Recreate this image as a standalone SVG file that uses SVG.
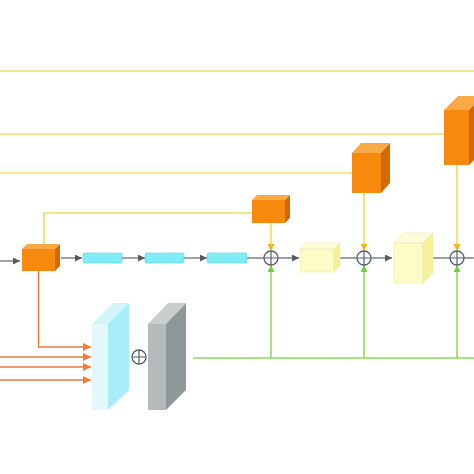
<svg xmlns="http://www.w3.org/2000/svg" width="474" height="474" viewBox="0 0 474 474">
<defs>
<style>
.yl{stroke:#F2DD64;stroke-width:1.7;fill:none}
.gr{stroke:#8EDB5A;stroke-width:1.6;fill:none}
.gy{stroke:#6b6f73;stroke-width:1.3;fill:none}
.or{stroke:#F07A3C;stroke-width:1.5;fill:none}
.of{fill:#F7890C}.ot{fill:#F9A945}.os{fill:#CF6A05}
.pf{fill:#FDFBC6;stroke:#EDEBA6;stroke-width:0.6}.pt{fill:#FCFBDA;stroke:#EDEBA6;stroke-width:0.6}.ps{fill:#F6F29C;stroke:#EDEBA6;stroke-width:0.6}
.bar{fill:#7FEDF5;stroke:#5FCFDA;stroke-width:0.6}
.sum circle{fill:#fff;stroke:#55606b;stroke-width:1.3}
.sum path{stroke:#55606b;stroke-width:1.2}
</style>
<marker id="ag" viewBox="0 0 10 10" refX="10" refY="5" markerWidth="7" markerHeight="7" markerUnits="userSpaceOnUse" orient="auto"><path d="M0,0L10,5L0,10z" fill="#55595d"/></marker>
<marker id="ay" viewBox="0 0 10 10" refX="10" refY="5" markerWidth="7" markerHeight="7" markerUnits="userSpaceOnUse" orient="auto"><path d="M0,0L10,5L0,10z" fill="#F5B415"/></marker>
<marker id="agr" viewBox="0 0 10 10" refX="10" refY="5" markerWidth="7" markerHeight="7" markerUnits="userSpaceOnUse" orient="auto"><path d="M0,0L10,5L0,10z" fill="#6FD13A"/></marker>
<marker id="ao" viewBox="0 0 10 10" refX="10" refY="5" markerWidth="8" markerHeight="8" markerUnits="userSpaceOnUse" orient="auto"><path d="M0,0L10,5L0,10z" fill="#F07A3C"/></marker>
</defs>
<rect width="474" height="474" fill="#fff"/>
<g id="connectors">
<line class="yl" x1="0" y1="71" x2="474" y2="71"/>
<line class="yl" x1="0" y1="134" x2="444" y2="134"/>
<line class="yl" x1="0" y1="173" x2="352" y2="173"/>
<polyline class="yl" points="44,244 44,213 252,213"/>
<line class="yl" x1="271" y1="223" x2="271" y2="251" marker-end="url(#ay)"/>
<line class="yl" x1="364" y1="193" x2="364" y2="251" marker-end="url(#ay)"/>
<line class="yl" x1="457" y1="165" x2="457" y2="251" marker-end="url(#ay)"/>
<line class="gy" x1="0" y1="261" x2="20" y2="261" marker-end="url(#ag)"/>
<line class="gy" x1="61" y1="258" x2="82" y2="258" marker-end="url(#ag)"/>
<line class="gy" x1="122" y1="258" x2="145" y2="258" marker-end="url(#ag)"/>
<line class="gy" x1="184" y1="258" x2="207" y2="258" marker-end="url(#ag)"/>
<line class="gy" x1="247" y1="258" x2="264" y2="258"/>
<line class="gy" x1="278" y1="258" x2="299" y2="258" marker-end="url(#ag)"/>
<line class="gy" x1="340" y1="258" x2="357" y2="258"/>
<line class="gy" x1="371" y1="258" x2="392" y2="258" marker-end="url(#ag)"/>
<line class="gy" x1="433" y1="258" x2="450" y2="258"/>
<line class="gy" x1="464" y1="258" x2="474" y2="258"/>
<polyline class="or" points="38.5,271 38.5,347 91,347" marker-end="url(#ao)"/>
<line class="or" x1="0" y1="357" x2="91" y2="357" marker-end="url(#ao)"/>
<line class="or" x1="0" y1="367" x2="91" y2="367" marker-end="url(#ao)"/>
<line class="or" x1="0" y1="380" x2="91" y2="380" marker-end="url(#ao)"/>
<line class="gr" x1="193" y1="358" x2="474" y2="358"/>
<line class="gr" x1="271" y1="358" x2="271" y2="265" marker-end="url(#agr)"/>
<line class="gr" x1="364" y1="358" x2="364" y2="265" marker-end="url(#agr)"/>
<line class="gr" x1="457" y1="358" x2="457" y2="265" marker-end="url(#agr)"/>
</g>
<g id="box-in">
<rect class="of" x="22" y="249" width="33" height="22"/>
<polygon class="ot" points="22,249 27,244 60,244 55,249"/>
<polygon class="os" points="55,249 60,244 60,266 55,271"/>
</g>
<g id="box-small">
<rect class="of" x="252" y="200" width="33" height="23"/>
<polygon class="ot" points="252,200 257,195 290,195 285,200"/>
<polygon class="os" points="285,200 290,195 290,218 285,223"/>
</g>
<g id="box-mid">
<rect class="of" x="352" y="153" width="29" height="40"/>
<polygon class="ot" points="352,153 361,143 390,143 381,153"/>
<polygon class="os" points="381,153 390,143 390,183 381,193"/>
</g>
<g id="box-big">
<rect class="of" x="444" y="110" width="25" height="55"/>
<polygon class="ot" points="444,110 458,96 483,96 469,110"/>
<polygon class="os" points="469,110 483,96 483,151 469,165"/>
</g>
<g id="bar1"><rect class="bar" x="83" y="253" width="39" height="10" rx="1.5"/></g>
<g id="bar2"><rect class="bar" x="145" y="253" width="39" height="10" rx="1.5"/></g>
<g id="bar3"><rect class="bar" x="207" y="253" width="40" height="10" rx="1.5"/></g>
<g id="sum1" class="sum"><circle cx="271" cy="258" r="7"/><path d="M264,258H278M271,251V265"/></g>
<g id="sum2" class="sum"><circle cx="364" cy="258" r="7"/><path d="M357,258H371M364,251V265"/></g>
<g id="sum3" class="sum"><circle cx="457" cy="258" r="7"/><path d="M450,258H464M457,251V265"/></g>
<g id="sum0" class="sum"><circle cx="139" cy="357" r="7"/><path d="M132,357H146M139,350V364"/></g>
<g id="pale1">
<rect class="pf" x="300" y="249" width="34" height="23"/>
<polygon class="pt" points="300,249 306,243 340,243 334,249"/>
<polygon class="ps" points="334,249 340,243 340,266 334,272"/>
</g>
<g id="pale2">
<rect class="pf" x="394" y="243" width="29" height="40"/>
<polygon class="pt" points="394,243 404,233 433,233 423,243"/>
<polygon class="ps" points="423,243 433,233 433,273 423,283"/>
</g>
<g id="panel-cyan">
<rect x="92" y="324" width="16" height="86" fill="#E3F8FD"/>
<polygon points="92,324 113,303 129,303 108,324" fill="#D2F5FC"/>
<polygon points="108,324 129,303 129,390 108,410" fill="#A8EDF9"/>
</g>
<g id="panel-gray">
<rect x="148" y="324" width="18" height="86" fill="#B5BABB"/>
<polygon points="148,324 168,303 186,303 166,324" fill="#CACECF"/>
<polygon points="166,324 186,303 186,390 166,410" fill="#8F9898"/>
</g>
</svg>
